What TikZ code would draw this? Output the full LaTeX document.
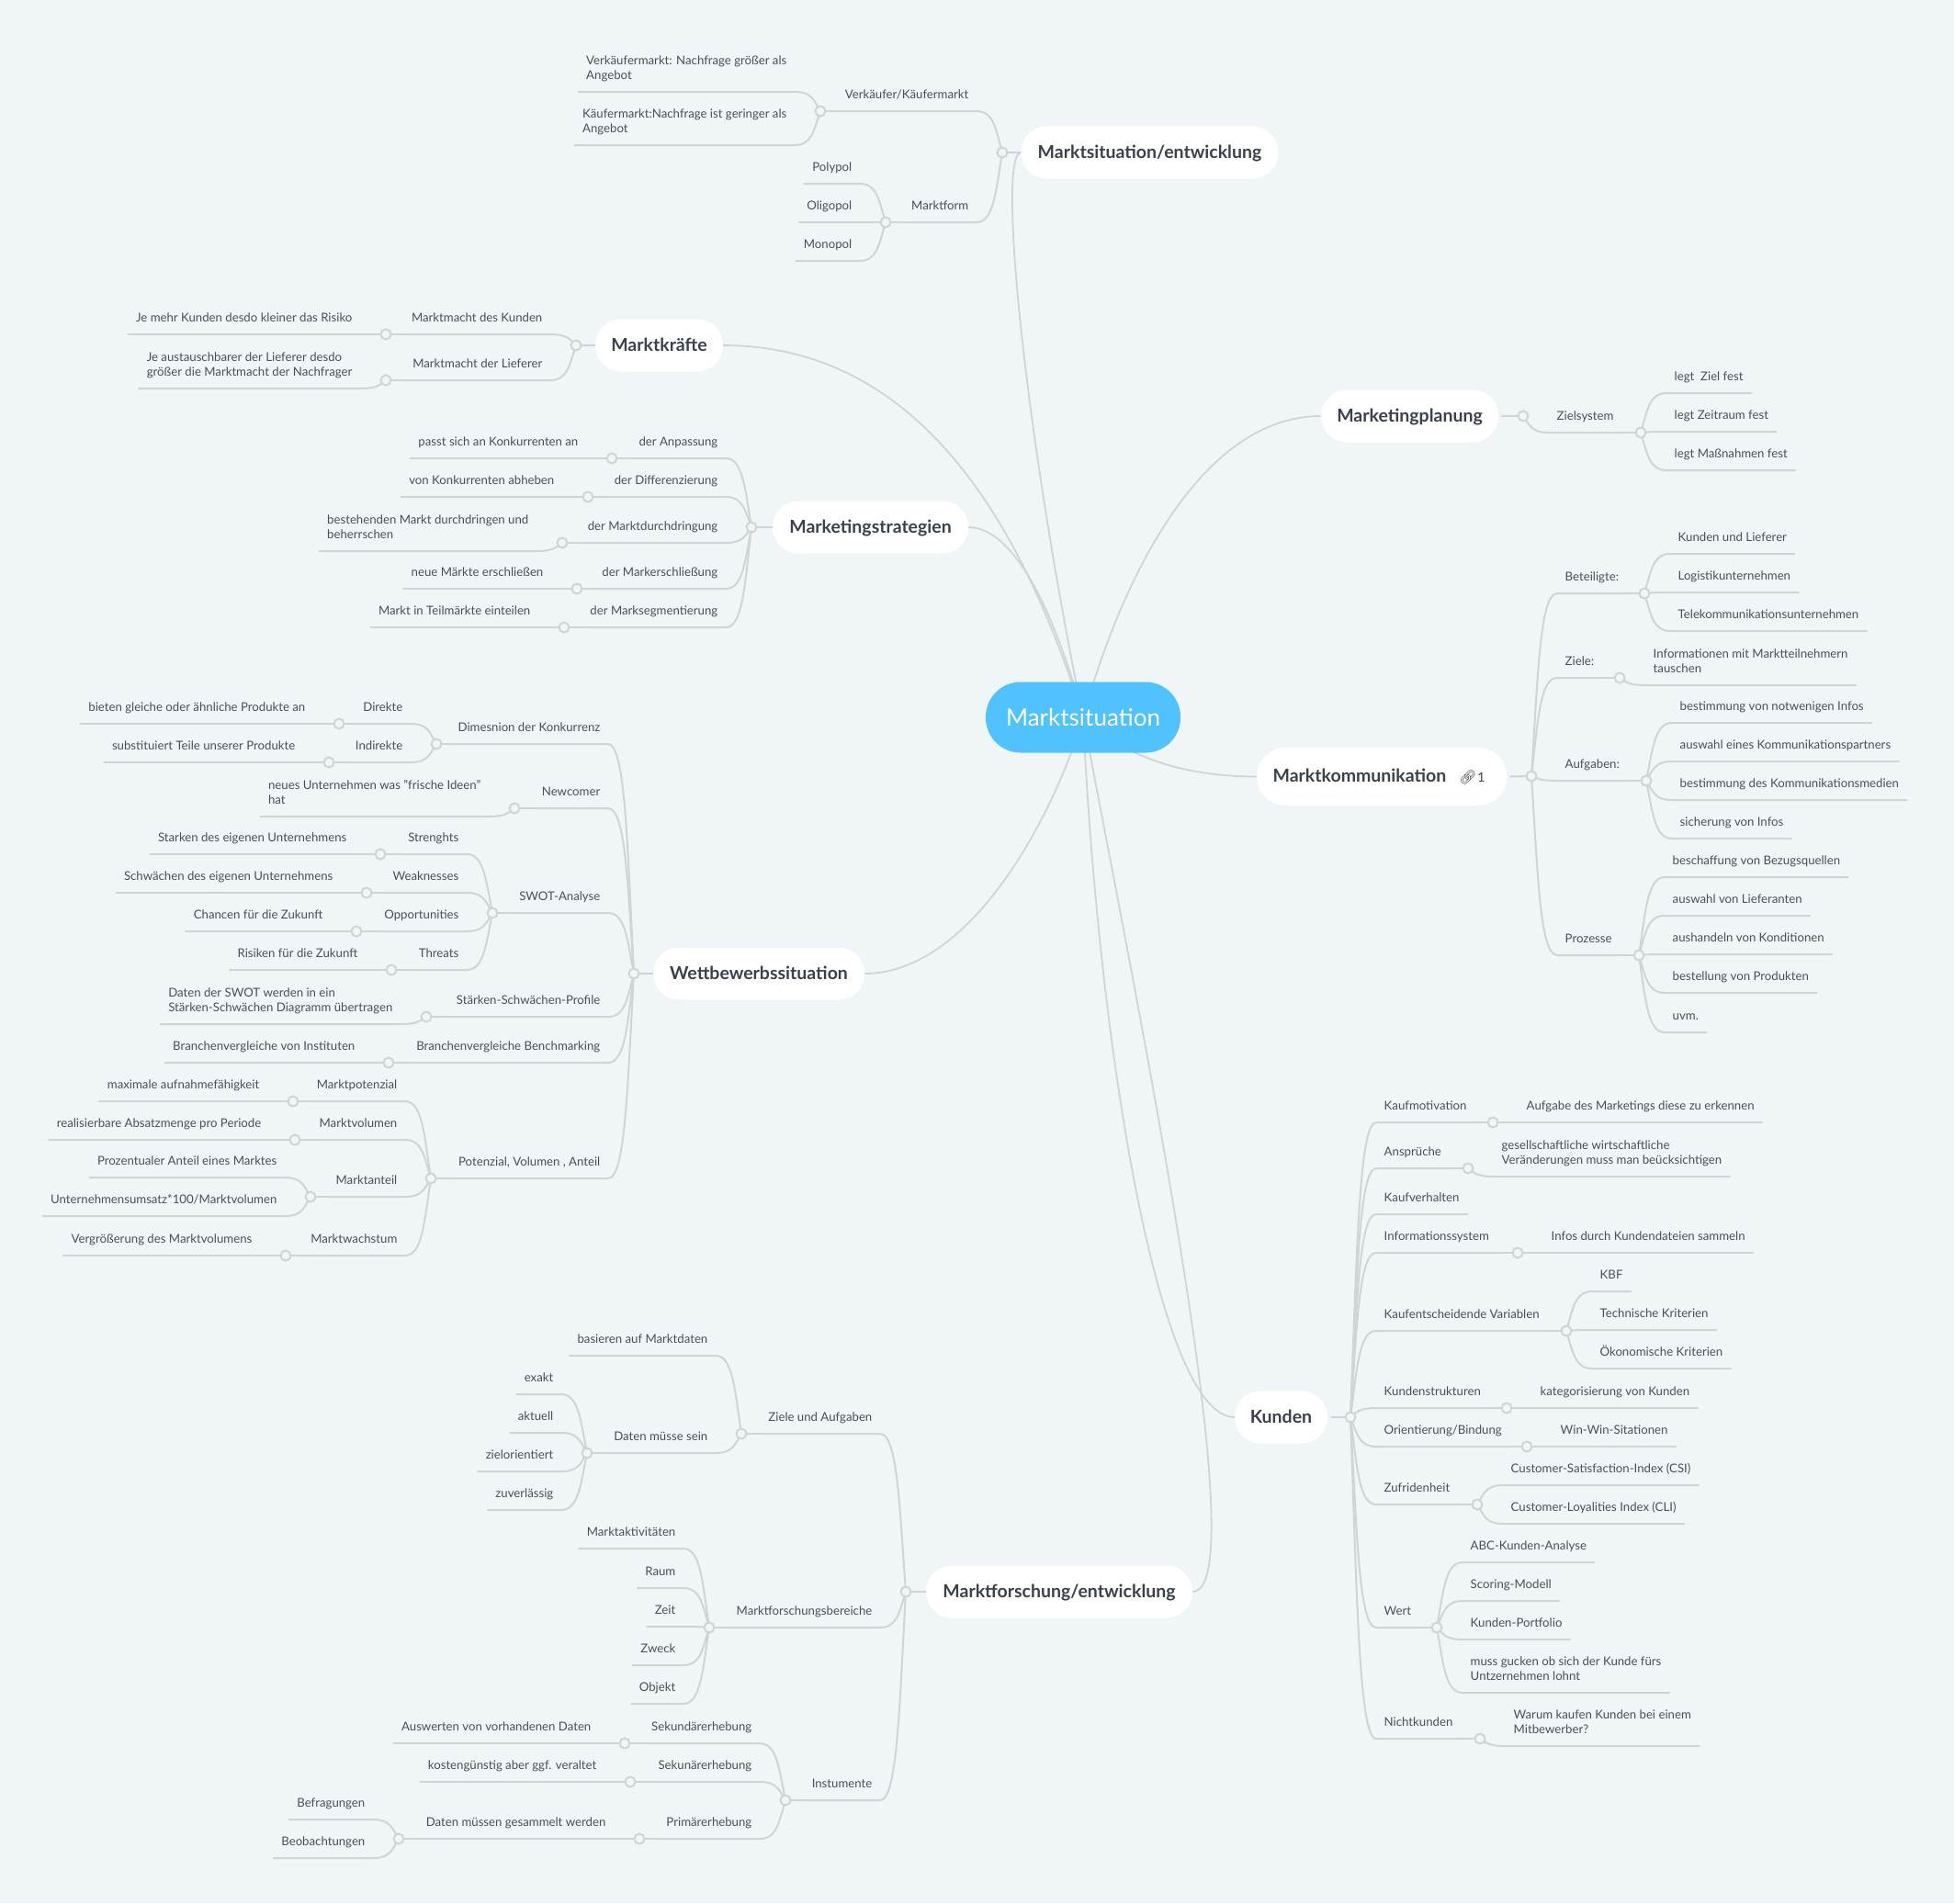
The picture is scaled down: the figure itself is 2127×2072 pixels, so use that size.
\documentclass[tikz,border=0pt]{standalone}
\usepackage{fontspec}
\usepackage{xcolor}
\usepackage{tikz}
\usetikzlibrary{calc,backgrounds}
\setmainfont{Lato}
\newfontfamily\symbolfont{Noto Emoji}
\definecolor{grund}{HTML}{F0F5F8}
\definecolor{linie}{HTML}{D0D4D7}
\definecolor{schrift}{HTML}{4A5056}
\definecolor{titel}{HTML}{39424C}
\definecolor{zentrum}{HTML}{4FC2FF}

\begin{document}
\begin{tikzpicture}[x=1pt,y=-1pt,
   ast/.style={draw=linie,line width=2pt,line cap=round,
     to path={let \p1=(\tikztostart),\p2=(\tikztotarget) in
       .. controls (\x1+0.25*\x2-0.25*\x1,\y1+0.55*\y2-0.55*\y1) and (\x1+0.33*\x2-0.33*\x1,\y2) .. (\tikztotarget)}},
   stamm/.style={draw=linie,line width=1.8pt},
   knopf/.style={circle,draw=linie,fill=grund,line width=2pt,inner sep=0pt,minimum size=11pt},
   blatt/.style={inner xsep=8.7pt,inner ysep=8.3pt,outer sep=0pt,align=left,text=schrift,
     font=\fontsize{13.2}{16}\selectfont,execute at end node={\strut}},
   blatt links/.style={blatt,anchor=south east},
   blatt rechts/.style={blatt,anchor=south west},
   thema/.style={fill=white,rounded corners=28pt,minimum height=57pt,text=titel,outer sep=0pt,
     text height=14pt,text depth=2pt,font=\fontsize{19.5}{23}\selectfont\bfseries}]

  \begin{scope}[on background layer]
    \fill[grund] (0,0) rectangle (2127,2072);
  \end{scope}
  \useasboundingbox (0,0) rectangle (2127,2072);

  % mitte und hauptthemen
  \node[fill=zentrum,rounded corners=38pt,minimum width=212pt,minimum height=77pt,text=white,
    font=\fontsize{26}{30}\selectfont] (z) at (1179,781) {Marktsituation};
  \node[thema,minimum width=280pt] (ma) at (1251.5,166) {Marktsituation/entwicklung};
  \node[thema,minimum width=139pt] (mb) at (717.5,376) {Marktkräfte};
  \node[thema,minimum width=213pt] (mc) at (947.5,574) {Marketingstrategien};
  \node[thema,minimum width=230pt] (md) at (826,1060) {Wettbewerbssituation};
  \node[thema,minimum width=290pt] (me) at (1153,1733) {Marktforschung/entwicklung};
  \node[thema,minimum width=193pt] (mf) at (1534.5,453) {Marketingplanung};
  \node[thema,minimum width=272pt,minimum height=63pt,rounded corners=31pt] (mg) at (1504,845.5)
    {Marktkommunikation\hspace{14pt}{\symbolfont\fontsize{15}{15}\selectfont\mdseries 🔗}{\fontsize{14}{14}\selectfont\mdseries\kern1pt 1}\kern6pt};
  \node[thema,minimum width=101pt] (mh) at (1394.5,1543) {Kunden};

  % knoepfe
  \foreach \name/\x/\y in {ka/1091/166,ka1/893/121,ka2/964/242,
      kb/627/376,kb1/420/364,kb2/420/414,
      kc/818/574,kc1/666/499,kc2/640/541,kc3/612/591,kc4/628/641,kc5/614/683,
      kd/690/1060,kd1/475/810,kd11/369/788,kd12/358/830,kd2/560/880,kd3/536/994,
      kd31/414/930,kd32/399/972,kd33/388/1014,kd34/426/1056,kd4/464/1107,kd5/423/1157,
      kd6/469/1283,kd61/319/1199,kd62/321/1241,kd63/338/1303,kd64/311/1367,
      ke/986/1733,ke1/807/1561,ke12/639/1582,ke2/772/1772,ke3/855/1960,
      ke31/680/1898,ke32/686/1940,ke33/696/2002,ke331/434/2002,
      kf/1658/453,kf1/1786/471,
      kg/1667/845,kg1/1790/646,kg2/1763/738,kg3/1792/850,kg4/1784/1040,
      kh/1470/1543,kh1/1625/1222,kh2/1598/1272,kh4/1652/1364,kh5/1705/1449,
      kh6/1640/1533,kh7/1662/1575,kh8/1608/1638,kh9/1564/1772,kh10/1611/1893}
    \node[knopf] (\name) at (\x,\y) {};

  % Marktsituation/entwicklung
  \node[blatt links] (a1) at (1063,121) {Verkäufer/Käufermarkt};
  \node[blatt links] (a11) at (865,100) {Verkäufermarkt: Nachfrage größer als\\Angebot};
  \node[blatt links] (a12) at (865,158) {Käufermarkt:Nachfrage ist geringer als\\Angebot};
  \node[blatt links] (a2) at (1063,242) {Marktform};
  \node[blatt links] (a21) at (936,200) {Polypol};
  \node[blatt links] (a22) at (936,242) {Oligopol};
  \node[blatt links] (a23) at (936,284) {Monopol};

  % Marktkräfte
  \node[blatt links] (b1) at (599,364) {Marktmacht des Kunden};
  \node[blatt links] (b11) at (392,364) {Je mehr Kunden desdo kleiner das Risiko};
  \node[blatt links] (b2) at (599,414) {Marktmacht der Lieferer};
  \node[blatt links] (b21) at (392,423) {Je austauschbarer der Lieferer desdo\\größer die Marktmacht der Nachfrager};

  % Marketingstrategien
  \node[blatt links] (c1) at (790,499) {der Anpassung};
  \node[blatt links] (c11) at (638,499) {passt sich an Konkurrenten an};
  \node[blatt links] (c2) at (790,541) {der Differenzierung};
  \node[blatt links] (c21) at (612,541) {von Konkurrenten abheben};
  \node[blatt links] (c3) at (790,591) {der Marktdurchdringung};
  \node[blatt links] (c31) at (584,600) {bestehenden Markt durchdringen und\\beherrschen};
  \node[blatt links] (c4) at (790,641) {der Markerschließung};
  \node[blatt links] (c41) at (600,641) {neue Märkte erschließen};
  \node[blatt links] (c5) at (790,683) {der Marksegmentierung};
  \node[blatt links] (c51) at (586,683) {Markt in Teilmärkte einteilen};

  % Wettbewerbssituation
  \node[blatt links] (d1) at (662,810) {Dimesnion der Konkurrenz};
  \node[blatt links] (d11) at (447,788) {Direkte};
  \node[blatt links] (d111) at (341,788) {bieten gleiche oder ähnliche Produkte an};
  \node[blatt links] (d12) at (447,830) {Indirekte};
  \node[blatt links] (d121) at (330,830) {substituiert Teile unserer Produkte};
  \node[blatt links] (d2) at (662,880) {Newcomer};
  \node[blatt links] (d21) at (532,889) {neues Unternehmen was "frische Ideen"\\hat};
  \node[blatt links] (d3) at (662,994) {SWOT-Analyse};
  \node[blatt links] (d31) at (508,930) {Strenghts};
  \node[blatt links] (d311) at (386,930) {Starken des eigenen Unternehmens};
  \node[blatt links] (d32) at (508,972) {Weaknesses};
  \node[blatt links] (d321) at (371,972) {Schwächen des eigenen Unternehmens};
  \node[blatt links] (d33) at (508,1014) {Opportunities};
  \node[blatt links] (d331) at (360,1014) {Chancen für die Zukunft};
  \node[blatt links] (d34) at (508,1056) {Threats};
  \node[blatt links] (d341) at (398,1056) {Risiken für die Zukunft};
  \node[blatt links] (d4) at (662,1107) {Stärken-Schwächen-Profile};
  \node[blatt links] (d41) at (436,1115) {Daten der SWOT werden in ein\\Stärken-Schwächen Diagramm übertragen};
  \node[blatt links] (d5) at (662,1157) {Branchenvergleiche Benchmarking};
  \node[blatt links] (d51) at (395,1157) {Branchenvergleiche von Instituten};
  \node[blatt links] (d6) at (662,1283) {Potenzial, Volumen , Anteil};
  \node[blatt links] (d61) at (441,1199) {Marktpotenzial};
  \node[blatt links] (d611) at (291,1199) {maximale aufnahmefähigkeit};
  \node[blatt links] (d62) at (441,1241) {Marktvolumen};
  \node[blatt links] (d621) at (293,1241) {realisierbare Absatzmenge pro Periode};
  \node[blatt links] (d63) at (441,1303) {Marktanteil};
  \node[blatt links] (d631) at (310,1282) {Prozentualer Anteil eines Marktes};
  \node[blatt links] (d632) at (310,1324) {Unternehmensumsatz*100/Marktvolumen};
  \node[blatt links] (d64) at (441,1367) {Marktwachstum};
  \node[blatt links] (d641) at (283,1367) {Vergrößerung des Marktvolumens};

  % Marktforschung/entwicklung
  \node[blatt links] (e1) at (958,1561) {Ziele und Aufgaben};
  \node[blatt links] (e11) at (779,1476) {basieren auf Marktdaten};
  \node[blatt links] (e12) at (779,1582) {Daten müsse sein};
  \node[blatt links] (e121) at (611,1518) {exakt};
  \node[blatt links] (e122) at (611,1560) {aktuell};
  \node[blatt links] (e123) at (611,1602) {zielorientiert};
  \node[blatt links] (e124) at (611,1644) {zuverlässig};
  \node[blatt links] (e2) at (958,1772) {Marktforschungsbereiche};
  \node[blatt links] (e21) at (744,1686) {Marktaktivitäten};
  \node[blatt links] (e22) at (744,1729) {Raum};
  \node[blatt links] (e23) at (744,1771) {Zeit};
  \node[blatt links] (e24) at (744,1813) {Zweck};
  \node[blatt links] (e25) at (744,1855) {Objekt};
  \node[blatt links] (e3) at (958,1960) {Instumente};
  \node[blatt links] (e31) at (827,1898) {Sekundärerhebung};
  \node[blatt links] (e311) at (652,1898) {Auswerten von vorhandenen Daten};
  \node[blatt links] (e32) at (827,1940) {Sekunärerhebung};
  \node[blatt links] (e321) at (658,1940) {kostengünstig aber ggf. veraltet};
  \node[blatt links] (e33) at (827,2002) {Primärerhebung};
  \node[blatt links] (e331) at (668,2002) {Daten müssen gesammelt werden};
  \node[blatt links] (e3311) at (406,1981) {Befragungen};
  \node[blatt links] (e3312) at (406,2023) {Beobachtungen};

  % Marketingplanung
  \node[blatt rechts] (f1) at (1686,471) {Zielsystem};
  \node[blatt rechts] (f11) at (1814,428) {legt\ \ Ziel fest};
  \node[blatt rechts] (f12) at (1814,470) {legt Zeitraum fest};
  \node[blatt rechts] (f13) at (1814,512) {legt Maßnahmen fest};

  % Marktkommunikation
  \node[blatt rechts] (g1) at (1695,646) {Beteiligte:};
  \node[blatt rechts] (g11) at (1818,603) {Kunden und Lieferer};
  \node[blatt rechts] (g12) at (1818,645) {Logistikunternehmen};
  \node[blatt rechts] (g13) at (1818,687) {Telekommunikationsunternehmen};
  \node[blatt rechts] (g2) at (1695,738) {Ziele:};
  \node[blatt rechts] (g21) at (1791,746) {Informationen mit Marktteilnehmern\\tauschen};
  \node[blatt rechts] (g3) at (1695,850) {Aufgaben:};
  \node[blatt rechts] (g31) at (1820,787) {bestimmung von notwenigen Infos};
  \node[blatt rechts] (g32) at (1820,829) {auswahl eines Kommunikationspartners};
  \node[blatt rechts] (g33) at (1820,871) {bestimmung des Kommunikationsmedien};
  \node[blatt rechts] (g34) at (1820,913) {sicherung von Infos};
  \node[blatt rechts] (g4) at (1695,1040) {Prozesse};
  \node[blatt rechts] (g41) at (1812,955) {beschaffung von Bezugsquellen};
  \node[blatt rechts] (g42) at (1812,997) {auswahl von Lieferanten};
  \node[blatt rechts] (g43) at (1812,1039) {aushandeln von Konditionen};
  \node[blatt rechts] (g44) at (1812,1081) {bestellung von Produkten};
  \node[blatt rechts] (g45) at (1812,1124) {uvm.};

  % Kunden
  \node[blatt rechts] (h1) at (1498,1222) {Kaufmotivation};
  \node[blatt rechts] (h11) at (1653,1222) {Aufgabe des Marketings diese zu erkennen};
  \node[blatt rechts] (h2) at (1498,1272) {Ansprüche};
  \node[blatt rechts] (h21) at (1626,1281) {gesellschaftliche wirtschaftliche\\Veränderungen muss man beücksichtigen};
  \node[blatt rechts] (h3) at (1498,1322) {Kaufverhalten};
  \node[blatt rechts] (h4) at (1498,1364) {Informationssystem};
  \node[blatt rechts] (h41) at (1680,1364) {Infos durch Kundendateien sammeln};
  \node[blatt rechts] (h5) at (1498,1449) {Kaufentscheidende Variablen};
  \node[blatt rechts] (h51) at (1733,1406) {KBF};
  \node[blatt rechts] (h52) at (1733,1448) {Technische Kriterien};
  \node[blatt rechts] (h53) at (1733,1490) {Ökonomische Kriterien};
  \node[blatt rechts] (h6) at (1498,1533) {Kundenstrukturen};
  \node[blatt rechts] (h61) at (1668,1533) {kategorisierung von Kunden};
  \node[blatt rechts] (h7) at (1498,1575) {Orientierung/Bindung};
  \node[blatt rechts] (h71) at (1690,1575) {Win-Win-Sitationen};
  \node[blatt rechts] (h8) at (1498,1638) {Zufridenheit};
  \node[blatt rechts] (h81) at (1636,1617) {Customer-Satisfaction-Index (CSI)};
  \node[blatt rechts] (h82) at (1636,1659) {Customer-Loyalities Index (CLI)};
  \node[blatt rechts] (h9) at (1498,1772) {Wert};
  \node[blatt rechts] (h91) at (1592,1701) {ABC-Kunden-Analyse};
  \node[blatt rechts] (h92) at (1592,1743) {Scoring-Modell};
  \node[blatt rechts] (h93) at (1592,1785) {Kunden-Portfolio};
  \node[blatt rechts] (h94) at (1592,1843) {muss gucken ob sich der Kunde fürs\\Untzernehmen lohnt};
  \node[blatt rechts] (h10) at (1498,1893) {Nichtkunden};
  \node[blatt rechts] (h101) at (1639,1901) {Warum kaufen Kunden bei einem\\Mitbewerber?};

  \begin{scope}[on background layer]
    % von der mitte zu den hauptthemen
    \draw[stamm] (z.center) .. controls (1115,470) and (1085,166) .. (ma.west);
    \draw[stamm] (z.center) .. controls (1110,560) and (995,376) .. (mb.east);
    \draw[stamm] (z.center) .. controls (1155,690) and (1110,574) .. (mc.east);
    \draw[stamm] (z.center) .. controls (1150,880) and (1060,1060) .. (md.east);
    \draw[stamm] (z.center) .. controls (1235,1080) and (1370,1733) .. (me.east);
    \draw[stamm] (z.center) .. controls (1215,650) and (1300,453) .. (mf.west);
    \draw[stamm] (z.center) .. controls (1225,825) and (1290,845.5) .. (mg.west);
    \draw[stamm] (z.center) .. controls (1195,1130) and (1260,1543) .. (mh.west);

    % thema zum knopf
    \foreach \von/\nach in {ma/ka,mb/kb,mc/kc,md/kd,me/ke} \draw[ast] (\von.west) -- (\nach.center);
    \foreach \von/\nach in {mf/kf,mg/kg,mh/kh} \draw[ast,shorten <=4pt] (\von.east) -- (\nach.center);

    % unterstrich zum knopf
    \foreach \von/\nach in {a1/ka1,a2/ka2,b1/kb1,b2/kb2,c1/kc1,c2/kc2,c3/kc3,c4/kc4,c5/kc5,
        d1/kd1,d11/kd11,d12/kd12,d2/kd2,d3/kd3,d31/kd31,d32/kd32,d33/kd33,d34/kd34,d4/kd4,d5/kd5,
        d6/kd6,d61/kd61,d62/kd62,d63/kd63,d64/kd64,e1/ke1,e12/ke12,e2/ke2,e3/ke3,e31/ke31,e32/ke32,
        e33/ke33,e331/ke331}
      \draw[ast] (\von.south west) -- (\nach.center);
    \foreach \von/\nach in {f1/kf1,g1/kg1,g2/kg2,g3/kg3,g4/kg4,h1/kh1,h2/kh2,h4/kh4,h5/kh5,h6/kh6,
        h7/kh7,h8/kh8,h9/kh9,h10/kh10}
      \draw[ast] (\von.south east) -- (\nach.center);

    % aeste nach links
    \foreach \von/\nach in {ka/a1,ka/a2,ka1/a11,ka1/a12,ka2/a21,ka2/a22,ka2/a23,
        kb/b1,kb/b2,kb1/b11,kb2/b21,
        kc/c1,kc/c2,kc/c3,kc/c4,kc/c5,kc1/c11,kc2/c21,kc3/c31,kc4/c41,kc5/c51,
        kd/d1,kd/d2,kd/d3,kd/d4,kd/d5,kd/d6,kd1/d11,kd1/d12,kd11/d111,kd12/d121,kd2/d21,
        kd3/d31,kd3/d32,kd3/d33,kd3/d34,kd31/d311,kd32/d321,kd33/d331,kd34/d341,kd4/d41,kd5/d51,
        kd6/d61,kd6/d62,kd6/d63,kd6/d64,kd61/d611,kd62/d621,kd63/d631,kd63/d632,kd64/d641,
        ke/e1,ke/e2,ke/e3,ke1/e11,ke1/e12,ke12/e121,ke12/e122,ke12/e123,ke12/e124,
        ke2/e21,ke2/e22,ke2/e23,ke2/e24,ke2/e25,ke3/e31,ke3/e32,ke3/e33,ke31/e311,ke32/e321,
        ke33/e331,ke331/e3311,ke331/e3312}
      \draw[ast] (\von.center) to (\nach.south east) -- (\nach.south west);

    % aeste nach rechts
    \foreach \von/\nach in {kf/f1,kf1/f11,kf1/f12,kf1/f13,
        kg/g1,kg/g2,kg/g3,kg/g4,kg1/g11,kg1/g12,kg1/g13,kg2/g21,kg3/g31,kg3/g32,kg3/g33,kg3/g34,
        kg4/g41,kg4/g42,kg4/g43,kg4/g44,kg4/g45,
        kh/h1,kh/h2,kh/h3,kh/h4,kh/h5,kh/h6,kh/h7,kh/h8,kh/h9,kh/h10,kh1/h11,kh2/h21,kh4/h41,
        kh5/h51,kh5/h52,kh5/h53,kh6/h61,kh7/h71,kh8/h81,kh8/h82,kh9/h91,kh9/h92,kh9/h93,kh9/h94,kh10/h101}
      \draw[ast] (\von.center) to (\nach.south west) -- (\nach.south east);
  \end{scope}
\end{tikzpicture}
\end{document}
